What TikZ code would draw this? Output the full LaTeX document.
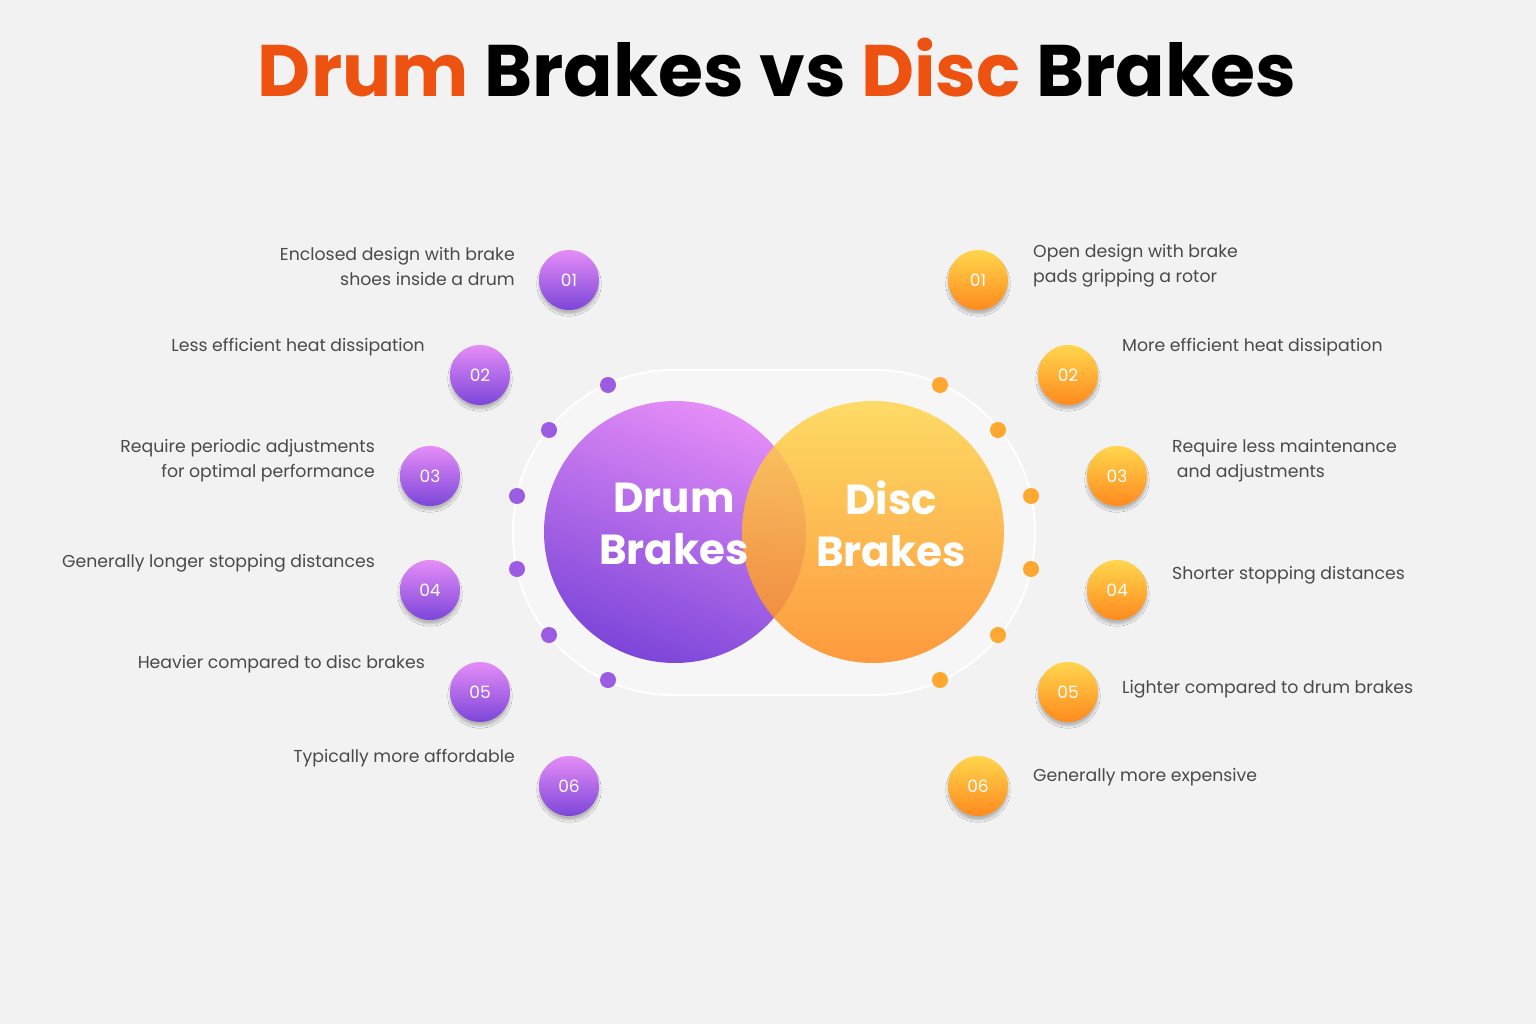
\documentclass[tikz,border=0pt]{standalone}
\usepackage{fontspec}
\setmainfont{Poppins}
\usetikzlibrary{shadows.blur}
\definecolor{bg}{HTML}{F2F2F2}
\definecolor{ttlor}{HTML}{EE5210}
\definecolor{txt}{HTML}{4A4A4A}
\definecolor{pl}{HTML}{E58DF7}
\definecolor{pd}{HTML}{7C46D9}
\definecolor{ol}{HTML}{FFD64D}
\definecolor{od}{HTML}{FF8A1E}
\begin{document}
\begin{tikzpicture}[x=1pt,y=-1pt,
 pnum/.style={circle,minimum size=60pt,inner sep=0,top color=pl,bottom color=pd,text=white,font=\fontsize{17}{17}\selectfont,blur shadow={shadow blur steps=6,shadow xshift=0pt,shadow yshift=-4pt,shadow opacity=25}},
 onum/.style={pnum,top color=ol,bottom color=od},
 pdot/.style={circle,minimum size=16pt,inner sep=0,fill=pd!70!pl},
 odot/.style={circle,minimum size=16pt,inner sep=0,fill=od!60!ol},
 lt/.style={anchor=east,align=right,text=txt,font=\fontsize{17.3}{25}\selectfont,inner sep=0},
 rt/.style={anchor=west,align=left,text=txt,font=\fontsize{17.3}{25}\selectfont,inner sep=0},
 big/.style={text=white,align=center,font=\fontsize{42}{52}\bfseries\selectfont}]
\fill[bg] (0,0) rectangle (1536,1024);
\useasboundingbox (0,0) rectangle (1536,1024);
\node[font=\fontsize{73}{73}\bfseries\selectfont] (title) at (777,68) {\textcolor{ttlor}{Drum} Brakes vs \textcolor{ttlor}{Disc} Brakes};
\draw[white,line width=2pt,fill=white,fill opacity=0.35,rounded corners=160pt] (513,370) rectangle (1035,695);
\shade[top color=pl,bottom color=pd,shading angle=-20] (675,532) circle[radius=131];
\node[circle,minimum size=262pt,inner sep=0] (drum) at (675,532) {};
\shade[top color=ol,bottom color=od,opacity=0.85] (873,532) circle[radius=131];
\node[circle,minimum size=262pt,inner sep=0] (disc) at (873,532) {};
\node[big] (drumt) at (674,524) {Drum\\Brakes};
\node[big] (disct) at (891,524) {Disc\\Brakes};
\foreach \x/\y/\n in {608/385/a,549/430/b,517/496/c,517/569/d,549/635/e,608/680/f} \node[pdot] (pd\n) at (\x,\y) {};
\foreach \x/\y/\n in {940/385/a,998/430/b,1031/496/c,1031/569/d,998/635/e,940/680/f} \node[odot] (od\n) at (\x,\y) {};
\node[pnum] (l1) at (569,280) {01};
\node[pnum] (l2) at (480,375) {02};
\node[pnum] (l3) at (430,476) {03};
\node[pnum] (l4) at (430,590) {04};
\node[pnum] (l5) at (480,692) {05};
\node[pnum] (l6) at (569,786) {06};
\node[onum] (r1) at (978,280) {01};
\node[onum] (r2) at (1068,375) {02};
\node[onum] (r3) at (1117,476) {03};
\node[onum] (r4) at (1117,590) {04};
\node[onum] (r5) at (1068,692) {05};
\node[onum] (r6) at (978,786) {06};
\node[lt] (lt1) at (515,266) {Enclosed design with brake\\shoes inside a drum};
\node[lt] (lt2) at (425,347) {Less efficient heat dissipation};
\node[lt] (lt3) at (375,461) {Require periodic adjustments\\for optimal performance};
\node[lt] (lt4) at (375,563) {Generally longer stopping distances};
\node[lt] (lt5) at (425,664) {Heavier compared to disc brakes};
\node[lt] (lt6) at (515,758) {Typically more affordable};
\node[rt] (rt1) at (1033,266) {Open design with brake\\pads gripping a rotor};
\node[rt] (rt2) at (1122,347) {More efficient heat dissipation};
\node[rt] (rt3) at (1172,461) {Require less maintenance\\\ and adjustments};
\node[rt] (rt4) at (1172,575) {Shorter stopping distances};
\node[rt] (rt5) at (1122,689) {Lighter compared to drum brakes};
\node[rt] (rt6) at (1033,777) {Generally more expensive};
\end{tikzpicture}
\end{document}
